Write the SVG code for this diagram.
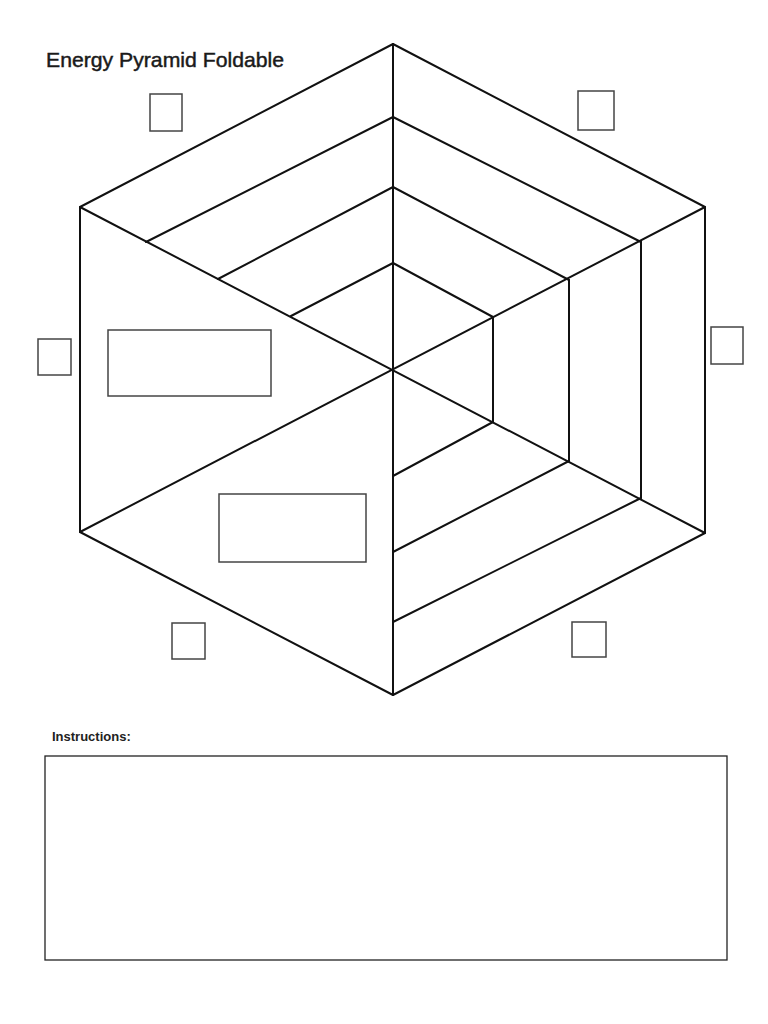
<svg xmlns="http://www.w3.org/2000/svg" width="768" height="1024" viewBox="0 0 768 1024">
<style>
.ln{stroke:#111;stroke-width:2;fill:none;stroke-linecap:round;stroke-linejoin:round}
.bx{stroke:#444;stroke-width:1.5;fill:#fff}
.title{font-family:"Liberation Sans",Arial,sans-serif;font-size:21px;fill:#1a1a1a;stroke:#1a1a1a;stroke-width:0.45}
.lbl{font-family:"Liberation Sans",Arial,sans-serif;font-size:13px;font-weight:bold;fill:#222}
</style>
<rect width="768" height="1024" fill="#fff"/>
<text class="title" x="46" y="67" textLength="238" lengthAdjust="spacingAndGlyphs">Energy Pyramid Foldable</text>
<g id="pyramid">
  <polygon class="ln" points="393,44 705,207 705,533 393,695 80,532 80,207"/>
  <line class="ln" x1="393" y1="44" x2="393" y2="695"/>
  <line class="ln" x1="80" y1="207" x2="705" y2="533"/>
  <line class="ln" x1="80" y1="532" x2="705" y2="207"/>
  <line class="ln" x1="146" y1="242" x2="393" y2="117"/>
  <line class="ln" x1="218" y1="279" x2="393" y2="187"/>
  <line class="ln" x1="291" y1="316" x2="393" y2="263"/>
  <line class="ln" x1="393" y1="117" x2="641" y2="242"/>
  <line class="ln" x1="393" y1="187" x2="569" y2="280"/>
  <line class="ln" x1="393" y1="263" x2="493" y2="317"/>
  <line class="ln" x1="641" y1="242" x2="641" y2="498"/>
  <line class="ln" x1="569" y1="280" x2="569" y2="461"/>
  <line class="ln" x1="493" y1="317" x2="493" y2="422"/>
  <line class="ln" x1="641" y1="498" x2="393" y2="622"/>
  <line class="ln" x1="569" y1="461" x2="393" y2="552"/>
  <line class="ln" x1="493" y1="422" x2="393" y2="476"/>
</g>
<g id="boxes">
  <rect id="sq-tl" class="bx" x="150" y="94" width="32" height="37"/>
  <rect id="sq-tr" class="bx" x="578" y="91" width="36" height="39"/>
  <rect id="sq-l" class="bx" x="38" y="339" width="33" height="36"/>
  <rect id="sq-r" class="bx" x="711" y="327" width="32" height="37"/>
  <rect id="sq-bl" class="bx" x="172" y="623" width="33" height="36"/>
  <rect id="sq-br" class="bx" x="572" y="622" width="34" height="35"/>
  <rect id="rect-l" class="bx" x="108" y="330" width="163" height="66"/>
  <rect id="rect-b" class="bx" x="219" y="494" width="147" height="68"/>
</g>
<g id="instructions">
  <text class="lbl" x="52" y="741">Instructions:</text>
  <rect x="45" y="756" width="682" height="204" fill="none" stroke="#222" stroke-width="1.3"/>
</g>
</svg>
